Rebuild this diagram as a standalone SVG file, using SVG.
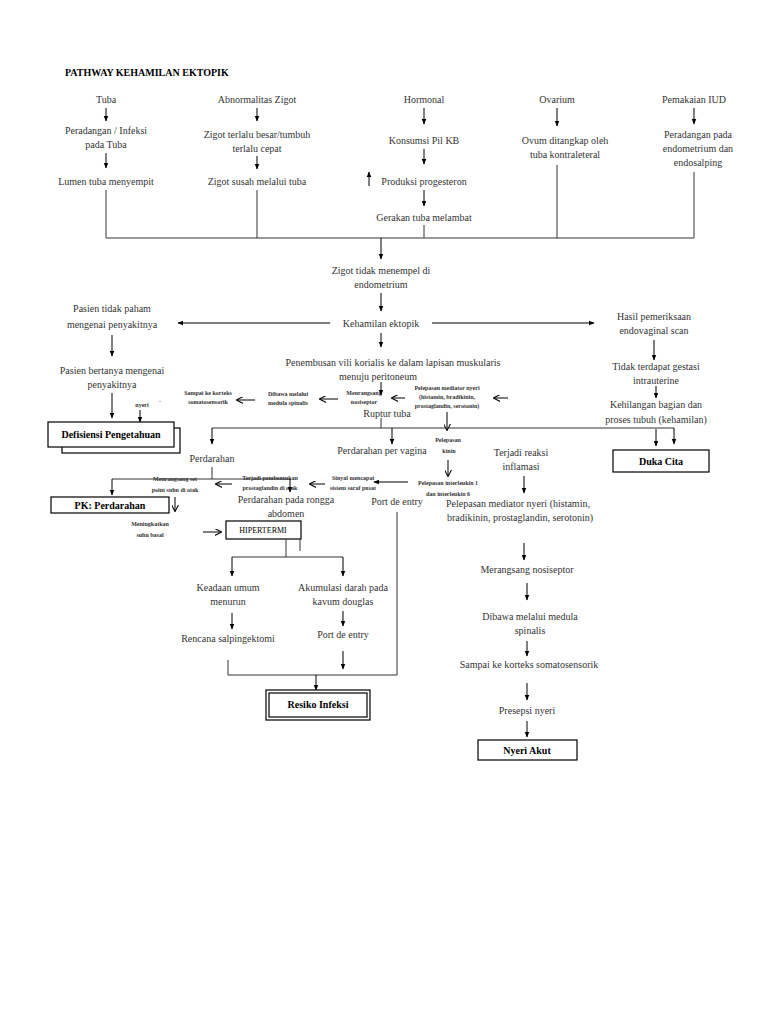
<svg xmlns="http://www.w3.org/2000/svg" width="768" height="1024" viewBox="0 0 768 1024">
<defs>
<marker id="ah" viewBox="0 0 10 10" refX="9" refY="5" markerWidth="6" markerHeight="6" orient="auto"><path d="M0,1 L10,5 L0,9 z" fill="#000"/></marker>
<marker id="va" viewBox="0 0 10 10" refX="9" refY="5" markerWidth="7" markerHeight="7" orient="auto"><path d="M0,0 L10,5 L0,10" fill="none" stroke="#000" stroke-width="1.5"/></marker>
</defs>
<style>
text{font-family:"Liberation Serif",serif;font-size:10px;fill:#333;text-anchor:middle}
.s{font-size:6px;font-weight:bold}
.b{font-weight:bold;fill:#000}
.l{stroke:#333;stroke-width:1;fill:none}
.a{stroke:#000;stroke-width:1;fill:none;marker-end:url(#ah)}
.v{stroke:#000;stroke-width:1;fill:none;marker-end:url(#va)}
.box{fill:#fff;stroke:#000;stroke-width:1.2}
</style>
<rect width="768" height="1024" fill="#fff"/>
<text x="65" y="76" class="b" style="text-anchor:start">PATHWAY KEHAMILAN EKTOPIK</text>
<g id="n-top">
<text x="106" y="103">Tuba</text>
<text x="257" y="103">Abnormalitas Zigot</text>
<text x="424" y="103">Hormonal</text>
<text x="557" y="103">Ovarium</text>
<text x="694" y="103">Pemakaian IUD</text>
<text x="106" y="134">Peradangan / Infeksi</text><text x="106" y="148">pada Tuba</text>
<text x="257" y="138">Zigot terlalu besar/tumbuh</text><text x="257" y="152">terlalu cepat</text>
<text x="424" y="144">Konsumsi Pil KB</text>
<text x="565" y="144">Ovum ditangkap oleh</text><text x="565" y="158">tuba kontraleteral</text>
<text x="698" y="138">Peradangan pada</text><text x="698" y="152">endometrium dan</text><text x="698" y="166">endosalping</text>
<text x="106" y="185">Lumen tuba menyempit</text>
<text x="257" y="185">Zigot susah melalui tuba</text>
<text x="424" y="185">Produksi progesteron</text>
<text x="424" y="221">Gerakan tuba melambat</text>
</g>
<g id="n-center">
<text x="381" y="274">Zigot tidak menempel di</text><text x="381" y="288">endometrium</text>
<text x="381" y="327">Kehamilan ektopik</text>
<text x="393" y="366">Penembusan vili korialis ke dalam lapisan muskularis</text><text x="378" y="380">menuju peritoneum</text>
<text x="387" y="417">Ruptur tuba</text>
<text x="364" y="395" class="s">Menrangsang</text><text x="364" y="404" class="s">nosiseptor</text>
<text x="447" y="390" class="s">Pelepasan mediator nyeri</text><text x="447" y="399" class="s">(histamin, bradikinin,</text><text x="447" y="408" class="s">prostaglandin, serotonin)</text>
<text x="288" y="396" class="s">Dibawa melalui</text><text x="288" y="405" class="s">medula spinalis</text>
<text x="208" y="395" class="s">Sampai ke korteks</text><text x="208" y="404" class="s">somatosensorik</text>
<text x="142" y="407" class="s">nyeri</text><text x="160" y="405" class="s">`</text>
<text x="382" y="454">Perdarahan per vagina</text>
<text x="448" y="442" class="s">Pelepasan</text><text x="449" y="453" class="s">kinin</text>
<text x="448" y="485" class="s">Pelepasan interleukin 1</text><text x="448" y="496" class="s">dan interleukin 6</text>
<text x="353" y="480" class="s">Sinyal mencapai</text><text x="353" y="490" class="s">sistem saraf pusat</text>
<text x="270" y="480" class="s">Terjadi pembentukan</text><text x="270" y="490" class="s">prostaglandin di otak</text>
<text x="175" y="481" class="s">Menrangsang set</text><text x="175" y="492" class="s">point suhu di otak</text>
<text x="397" y="505">Port de entry</text>
<text x="286" y="503">Perdarahan pada rongga</text><text x="286" y="517">abdomen</text>
<text x="150" y="526" class="s">Meningkatkan</text><text x="150" y="537" class="s">suhu basal</text>
<text x="228" y="591">Keadaan umum</text><text x="228" y="605">menurun</text>
<text x="228" y="642">Rencana salpingektomi</text>
<text x="343" y="591">Akumulasi darah pada</text><text x="343" y="605">kavum douglas</text>
<text x="343" y="638">Port de entry</text>
</g>
<g id="n-left">
<text x="112" y="312">Pasien tidak paham</text><text x="112" y="328">mengenai penyakitnya</text>
<text x="112" y="374">Pasien bertanya mengenai</text><text x="112" y="388">penyakitnya</text>
<text x="212" y="462">Perdarahan</text>
</g>
<g id="n-right">
<text x="654" y="320">Hasil pemeriksaan</text><text x="654" y="334">endovaginal scan</text>
<text x="656" y="370">Tidak terdapat gestasi</text><text x="656" y="384">intrauterine</text>
<text x="656" y="408">Kehilangan bagian dan</text><text x="656" y="423">proses tubuh (kehamilan)</text>
<text x="521" y="456">Terjadi reaksi</text><text x="521" y="470">inflamasi</text>
<text x="518" y="507">Pelepasan mediator nyeri (histamin,</text><text x="520" y="521">bradikinin, prostaglandin, serotonin)</text>
<text x="527" y="573">Merangsang nosiseptor</text>
<text x="530" y="620">Dibawa melalui medula</text><text x="530" y="634">spinalis</text>
<text x="529" y="668">Sampai ke korteks somatosensorik</text>
<text x="527" y="714">Presepsi nyeri</text>
</g>
<g id="n-boxes">
<rect x="62" y="428" width="118" height="25" class="box"/>
<rect x="48" y="422" width="126" height="25" class="box"/>
<text x="111" y="438" class="b">Defisiensi Pengetahuan</text>
<rect x="51" y="497" width="118" height="16" class="box"/>
<text x="110" y="509" class="b">PK: Perdarahan</text>
<rect x="226" y="521" width="75" height="18" class="box"/>
<text x="263" y="533" style="font-size:8px;fill:#000">HIPERTERMI</text>
<rect x="266" y="690" width="104" height="30" class="box"/>
<rect x="269" y="693" width="98" height="24" class="box"/>
<text x="318" y="708" class="b">Resiko Infeksi</text>
<rect x="613" y="450" width="96" height="22" class="box"/>
<text x="661" y="465" class="b">Duka Cita</text>
<rect x="478" y="740" width="99" height="20" class="box"/>
<text x="527" y="754" class="b">Nyeri Akut</text>
</g>
<g id="connectors">
<path class="a" d="M106 108V121"/><path class="a" d="M257 108V121"/><path class="a" d="M424 108V124"/><path class="a" d="M557 108V126"/><path class="a" d="M694 108V124"/>
<path class="a" d="M106 153V168"/><path class="a" d="M257 156V169"/><path class="a" d="M424 149V164"/>
<path class="a" d="M369 186V172"/><path class="a" d="M424 190V206"/>
<path class="l" d="M106 190V238M257 190V238M424 225V238M557 165V238M694 172V238M106 238H694"/>
<path class="a" d="M381 238V259"/><path class="a" d="M381 293V311"/>
<path class="a" d="M330 323H178"/><path class="a" d="M432 323H594"/>
<path class="a" d="M112 335V356"/><path class="a" d="M112 393V418"/>
<path class="a" d="M654 340V360"/><path class="a" d="M656 386V398"/><path class="a" d="M656 429V446"/>
<path class="a" d="M381 333V347"/><path class="a" d="M381 382V395"/>
<path class="v" d="M508 398H494"/><path class="v" d="M405 398H392"/><path class="v" d="M338 399H320"/><path class="v" d="M255 400H237"/>
<path class="a" d="M140 410V422"/>
<path class="v" d="M447 412V430"/>
<path class="l" d="M381 418V428M212 428H674"/>
<path class="a" d="M212 428V444"/><path class="a" d="M392 428V444"/><path class="a" d="M674 428V444"/>
<path class="v" d="M448 460V476"/><path class="a" d="M408 482H374"/>
<path class="v" d="M325 484H310"/><path class="v" d="M232 484H216"/>
<path class="l" d="M212 467V479M112 479H290"/>
<path class="a" d="M112 479V495"/><path class="a" d="M290 479V492"/>
<path class="v" d="M175 497V511"/>
<path class="v" d="M203 532H221"/>
<path class="a" d="M524 476V493"/><path class="a" d="M524 543V560"/><path class="a" d="M527 583V600"/><path class="a" d="M527 641V656"/><path class="a" d="M527 683V700"/><path class="a" d="M527 721V737"/>
<path class="l" d="M300 539V551M286 539V557M232 557H343"/>
<path class="a" d="M232 557V576"/><path class="a" d="M343 557V576"/>
<path class="a" d="M232 613V629"/><path class="a" d="M343 611V626"/><path class="a" d="M343 651V669"/>
<path class="l" d="M397 512V675M228 660V675M228 675H397"/>
<path class="a" d="M316 675V690"/>
</g>
</svg>
